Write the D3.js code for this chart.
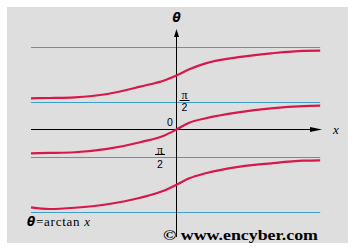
<!DOCTYPE html>
<html><head><meta charset="utf-8">
<script src="https://cdn.jsdelivr.net/npm/d3@7"></script>
<style>body{margin:0;background:#fff}svg{display:block}</style>
</head><body>
<script>
// x positions where curves were read (arbitrary x units)
const xs = [-4, -3.5, -2.8, -1.9, -1, -0.3, 0, 0.35, 0.8, 1.7, 2.6, 3.5, 3.95];
// theta values (radians) for each branch
const upperBranch  = [1.78, 1.80, 1.84, 2.03, 2.45, 2.83, 3.08, 3.44, 3.78, 4.13, 4.35, 4.49, 4.50];
const middleBranch = [-1.36, -1.34, -1.30, -1.11, -0.73, -0.31, 0, 0.39, 0.64, 0.98, 1.21, 1.34, 1.36];
const lowerBranch  = [-4.45, -4.54, -4.47, -4.27, -3.90, -3.46, -3.16, -2.79, -2.50, -2.13, -1.93, -1.78, -1.76];
// asymptote levels (radians)
const asymptotes = [3*Math.PI/2, Math.PI/2, -Math.PI/2, -3*Math.PI/2];
const tickLabels = ["0", "π", "2"];

const W = 355, H = 252;
const svg = d3.select("body").append("svg").attr("width", W).attr("height", H);

svg.append("rect").attr("x", 7).attr("y", 7).attr("width", 341).attr("height", 236).attr("fill", "#dedede");

const x = d3.scaleLinear().domain([-4, 4]).range([31, 322]);
const y = d3.scaleLinear().domain([0, Math.PI/2]).range([129.5, 102]);

// asymptote lines
svg.selectAll("line.asym").data(asymptotes).enter().append("line")
  .attr("x1", x(-4)).attr("x2", x(3.95))
  .attr("y1", d => Math.round(y(d)) + 0.5).attr("y2", d => Math.round(y(d)) + 0.5)
  .attr("stroke", "#3b9fd0").attr("stroke-width", 1);

// x axis
svg.append("line").attr("x1", x(-4)).attr("x2", x(3.7)).attr("y1", 129.5).attr("y2", 129.5)
  .attr("stroke", "#000").attr("stroke-width", 1);
svg.append("path").attr("d", `M${x(4)},129.5 L${x(4)-12},127 L${x(4)-12},132 Z`).attr("fill", "#000");
svg.append("text").attr("x", 333).attr("y", 134).text("x")
  .attr("font-family", "Liberation Serif, serif").attr("font-style", "italic").attr("font-size", 13);

// y axis
const xa = x(0);
svg.append("line").attr("x1", xa).attr("x2", xa).attr("y1", 34).attr("y2", 237)
  .attr("stroke", "#000").attr("stroke-width", 1);
svg.append("path").attr("d", `M${xa},29 L${xa-2.5},37 L${xa+2.5},37 Z`).attr("fill", "#000");
svg.append("text").attr("x", xa).attr("y", 22).attr("text-anchor", "middle").text("θ")
  .attr("font-family", "DejaVu Sans, sans-serif").attr("font-weight", "bold").attr("font-style", "italic").attr("font-size", 12);

// curves
const line = d3.line().x((d, i) => x(xs[i])).y(d => y(d)).curve(d3.curveMonotoneX);
[upperBranch, middleBranch, lowerBranch].forEach(b => {
  svg.append("path").attr("d", line(b)).attr("fill", "none")
    .attr("stroke", "#d8174a").attr("stroke-width", 2.2);
});

// labels
const lf = "Liberation Sans, Arial, sans-serif";
svg.append("text").attr("x", 170).attr("y", 126).attr("text-anchor", "middle").text(tickLabels[0])
  .attr("font-family", lf).attr("font-size", 10.5);
function frac(cx, piBase, bar, twoBase) {
  svg.append("text").attr("x", cx).attr("y", piBase).attr("text-anchor", "middle").text(tickLabels[1])
    .attr("font-family", "Liberation Serif, serif").attr("font-size", 12);
  svg.append("line").attr("x1", cx - 5).attr("x2", cx + 5).attr("y1", bar + 0.5).attr("y2", bar + 0.5)
    .attr("stroke", "#000").attr("stroke-width", 1);
  svg.append("text").attr("x", cx).attr("y", twoBase).attr("text-anchor", "middle").text(tickLabels[2])
    .attr("font-family", lf).attr("font-size", 10.5);
}
frac(184.5, 98.5, 100, 111);
frac(160, 154, 154, 168);

const eq = svg.append("text").attr("x", 27).attr("y", 226).attr("font-size", 13)
  .attr("font-family", "Liberation Serif, serif")
  .attr("textLength", 63).attr("lengthAdjust", "spacing");
eq.append("tspan").text("θ").attr("font-family", "DejaVu Sans, sans-serif").attr("font-weight", "bold").attr("font-style", "italic").attr("font-size", 12);
eq.append("tspan").text("=arctan ");
eq.append("tspan").text("x").attr("font-style", "italic");

svg.append("text").attr("x", 163).attr("y", 240).text("© www.encyber.com")
  .attr("font-family", "Liberation Serif, serif").attr("font-weight", "bold").attr("font-size", 15.5)
  .attr("textLength", 155).attr("lengthAdjust", "spacingAndGlyphs");
</script>
</body></html>
